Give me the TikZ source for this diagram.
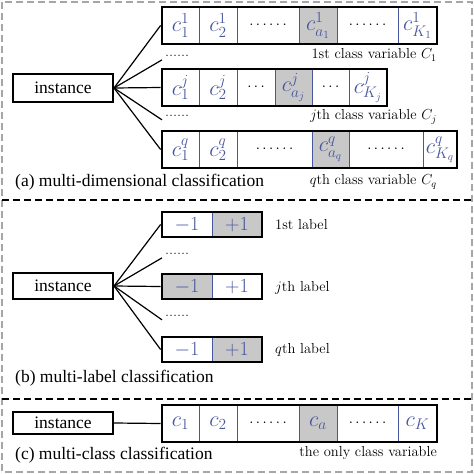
\RequirePackage{fix-cm}
\documentclass[tikz,border=0pt]{standalone}
\usepackage[no-math]{fontspec}
\newfontfamily\capfont{Liberation Serif}
\usetikzlibrary{fit}
\definecolor{cellblue}{RGB}{72,86,158}
\definecolor{cellgray}{RGB}{200,200,200}
\tikzset{
	cell/.style={draw=cellblue, line width=0.8pt, text=cellblue, minimum height=36, inner sep=0, font=\fontsize{22}{22}\selectfont},
	pm/.style={cell, minimum height=25, minimum width=50, font=\fontsize{20}{20}\selectfont},
	sel/.style={fill=cellgray},
	wt/.style={},
	dotc/.style={text=black, font=\fontsize{15}{15}\selectfont},
	frame/.style={draw, line width=2pt, inner sep=0},
	inst/.style={draw, line width=2pt, minimum width=100, inner sep=0, font=\capfont\fontsize{17.5}{17.5}\selectfont},
	note/.style={inner sep=0, font=\fontsize{14.5}{14.5}\selectfont},
	subcap/.style={inner sep=0, anchor=west, font=\capfont\fontsize{17.5}{17.5}\selectfont},
	gap/.style={inner sep=3pt, anchor=west, font=\fontsize{16}{16}\selectfont},
	link/.style={line width=1.2pt}
}

\begin{document}
\begin{tikzpicture}[x=1pt, y=-1pt]
	\useasboundingbox (0,0) rectangle (474,474);
	\draw[gray!70, dashed, line width=2pt, dash pattern=on 7pt off 4pt] (2,2) rectangle (472,472);
	\draw[dashed, line width=1.3pt, dash pattern=on 7pt off 4pt] (2,200) -- (472,200);
	\draw[dashed, line width=1.3pt, dash pattern=on 7pt off 4pt] (2,399) -- (472,399);

	% (a) multi-dimensional
	\node[inst, minimum height=28] (ia) at (63,88) {instance};
	\foreach \n/\x/\w/\s/\t in {a1/180.5/37/wt/{$c^1_1$}, a2/218/38/wt/{$c^1_2$}, a3/268/62/dotc/{$\cdots\cdots$},
		a4/318/38/sel/{$c^1_{a_1}$}, a5/367.5/61/dotc/{$\cdots\cdots$}, a6/417.5/39/wt/{$c^1_{K_1}$}}
	{	\node[cell, \s, minimum width=\w] (\n) at (\x,25.5) {\t};
	}
	\foreach \n/\x/\w/\s/\t in {j1/180.5/37/wt/{$c^j_1$}, j2/218/38/wt/{$c^j_2$}, j3/256/38/dotc/{$\cdots$},
		j4/293.5/37/sel/{$c^j_{a_j}$}, j5/330.5/37/dotc/{$\cdots$}, j6/368/38/wt/{$c^j_{K_j}$}}
	{	\node[cell, \s, minimum width=\w] (\n) at (\x,87.5) {\t};
	}
	\foreach \n/\x/\w/\s/\t in {q1/180.5/37/wt/{$c^q_1$}, q2/218/38/wt/{$c^q_2$}, q3/274.5/75/dotc/{$\cdots\cdots$},
		q4/330.5/37/sel/{$c^q_{a_q}$}, q5/386/74/dotc/{$\cdots\cdots$}, q6/440/34/wt/{$c^q_{K_q}$}}
	{	\node[cell, \s, minimum width=\w] (\n) at (\x,149.5) {\t};
	}
	\node[frame, fit=(a1)(a6)] (r1) {};
	\node[frame, fit=(j1)(j6)] (rj) {};
	\node[frame, fit=(q1)(q6)] (rq) {};
	\node[gap] (g1) at (162,56) {......};
	\node[gap] (g2) at (162,116) {......};
	\node[note, anchor=east] (l1) at (437,55) {1st class variable $C_1$};
	\node[note, anchor=east] (lj) at (437,117) {$j$th class variable $C_j$};
	\node[note, anchor=east] (lq) at (437,182) {$q$th class variable $C_q$};
	\foreach \t/\a in {r1/west, g1/south west, rj/west, g2/south west, rq/west}
	{	\draw[link] (ia.east) -- (\t.\a);
	}
	\node[subcap] (ca) at (15,182) {(a) multi-dimensional classification};

	% (b) multi-label
	\node[inst, minimum height=26] (ib) at (63,286) {instance};
	\foreach \r/\y/\sa/\sb in {b1/224.5/wt/sel, bj/286.5/sel/wt, bq/349.5/wt/sel}
	{	\node[pm, \sa] (\r m) at (187,\y) {$-1$};
		\node[pm, \sb] (\r p) at (237,\y) {$+1$};
		\node[frame, fit=(\r m)(\r p)] (\r) {};
	}
	\node[gap] (g3) at (162,254) {......};
	\node[gap] (g4) at (162,316) {......};
	\node[note, anchor=west] (m1) at (275,225) {1st label};
	\node[note, anchor=west] (mj) at (275,288) {$j$th label};
	\node[note, anchor=west] (mq) at (275,350) {$q$th label};
	\foreach \t/\a in {b1/west, g3/south west, bj/west, g4/south west, bq/west}
	{	\draw[link] (ib.east) -- (\t.\a);
	}
	\node[subcap] (cb) at (15,378) {(b) multi-label classification};

	% (c) multi-class
	\node[inst, minimum height=22] (ic) at (63,423) {instance};
	\foreach \n/\x/\w/\s/\t in {k1/180.5/37/wt/{$c_1$}, k2/218/38/wt/{$c_2$}, k3/268/62/dotc/{$\cdots\cdots$},
		k4/318/38/sel/{$c_a$}, k5/367.5/61/dotc/{$\cdots\cdots$}, k6/417.5/39/wt/{$c_K$}}
	{	\node[cell, \s, minimum width=\w] (\n) at (\x,423.5) {\t};
	}
	\node[frame, fit=(k1)(k6)] (rc) {};
	\draw[link] (ic.east) -- (rc.west);
	\node[note, anchor=east] (lc) at (437,453) {the only class variable};
	\node[subcap] (cc) at (15,455) {(c) multi-class classification};
\end{tikzpicture}
\end{document}
